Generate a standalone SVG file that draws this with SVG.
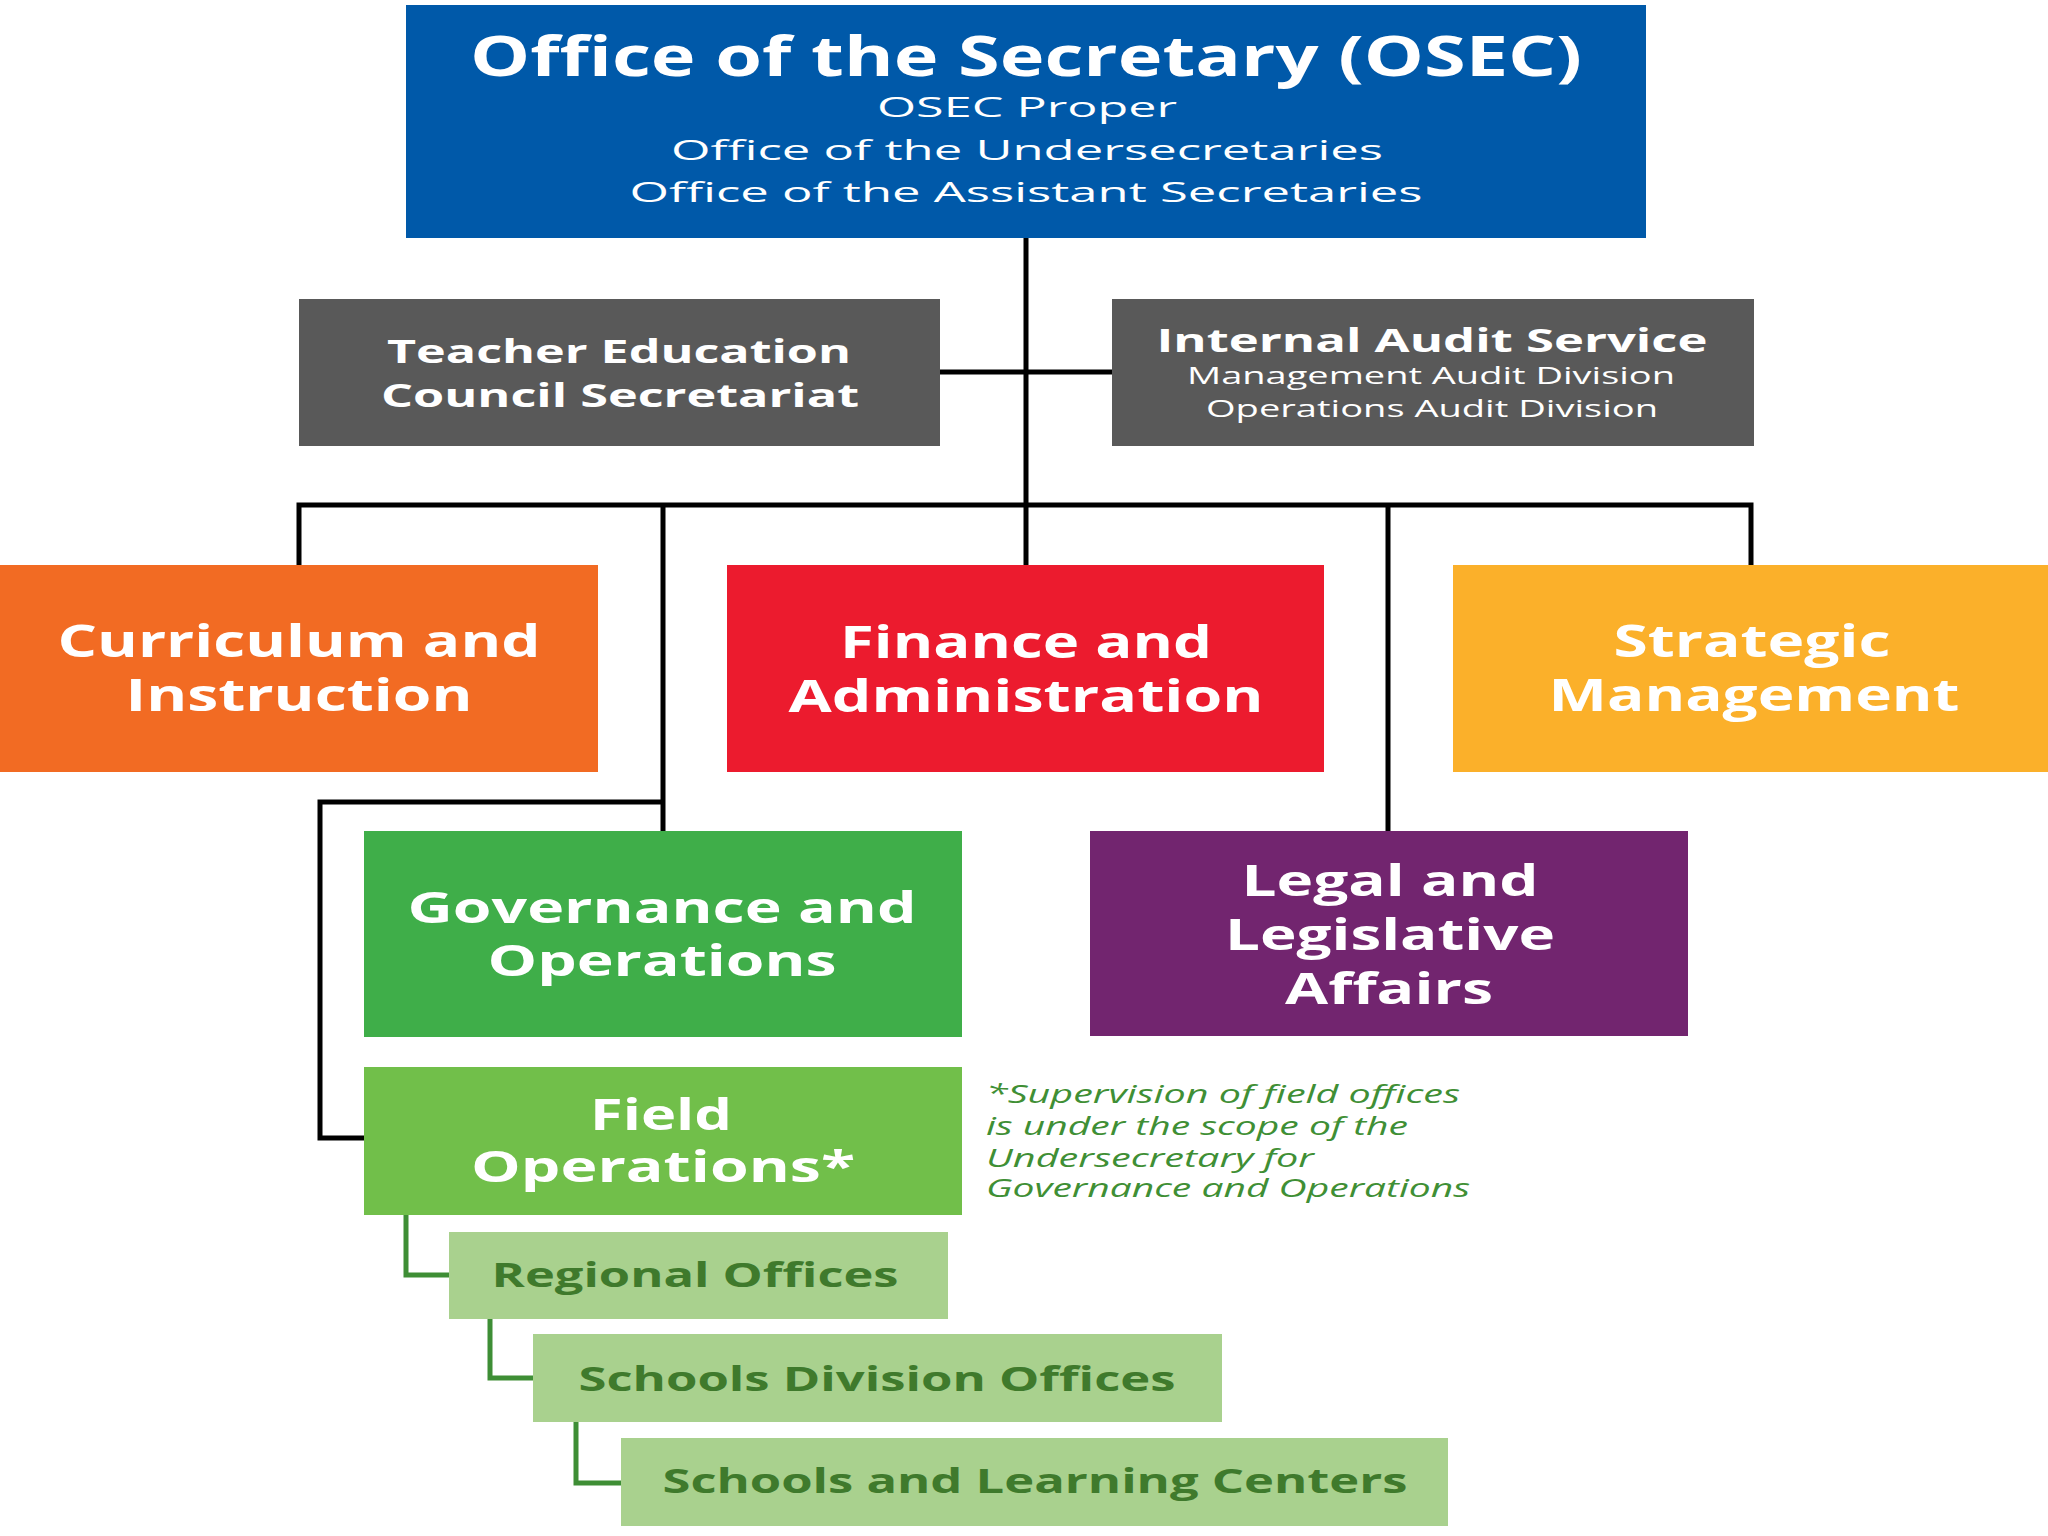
<svg xmlns="http://www.w3.org/2000/svg" width="2048" height="1536" viewBox="0 0 2048 1536">
<style>
.b{font-family:"Open Sans","Liberation Sans",sans-serif;font-weight:bold;fill:#ffffff;text-anchor:middle}
.r{font-family:"Open Sans","Liberation Sans",sans-serif;font-weight:normal;fill:#ffffff;text-anchor:middle}
.g{font-family:"Open Sans","Liberation Sans",sans-serif;font-weight:bold;fill:#3f7a2c;text-anchor:middle;font-size:34px}
.note{font-family:"Open Sans","Liberation Sans",sans-serif;font-style:italic;fill:#3f8f35;font-size:25px}
.ln{fill:none;stroke:#000000;stroke-width:5}
.gl{fill:none;stroke:#3e8e35;stroke-width:5}
</style>
<rect width="2048" height="1536" fill="#ffffff"/>
<g id="connectors">
<path class="ln" d="M1026 238 V505"/>
<path class="ln" d="M940 372 H1112"/>
<path class="ln" d="M299 565 V505 H1751 V565"/>
<path class="ln" d="M663 505 V831"/>
<path class="ln" d="M1026 505 V565"/>
<path class="ln" d="M1388 505 V831"/>
<path class="ln" d="M663 802 H320 V1138 H364"/>
<path class="gl" d="M406 1215 V1275 H449"/>
<path class="gl" d="M490 1319 V1378 H533"/>
<path class="gl" d="M576 1422 V1483 H621"/>
</g>
<g id="osec">
<rect x="406" y="5" width="1240" height="233" fill="#0059a9"/>
<text class="b" x="1026" y="76" font-size="56" textLength="1112" lengthAdjust="spacingAndGlyphs">Office of the Secretary (OSEC)</text>
<text class="r" x="1027" y="117" font-size="28" textLength="300" lengthAdjust="spacingAndGlyphs">OSEC Proper</text>
<text class="r" x="1027" y="160" font-size="28" textLength="712" lengthAdjust="spacingAndGlyphs">Office of the Undersecretaries</text>
<text class="r" x="1026" y="202" font-size="28" textLength="793" lengthAdjust="spacingAndGlyphs">Office of the Assistant Secretaries</text>
</g>
<g id="tecs">
<rect x="299" y="299" width="641" height="147" fill="#595959"/>
<text class="b" x="619" y="363" font-size="32" textLength="464" lengthAdjust="spacingAndGlyphs">Teacher Education</text>
<text class="b" x="620" y="407" font-size="32" textLength="478" lengthAdjust="spacingAndGlyphs">Council Secretariat</text>
</g>
<g id="ias">
<rect x="1112" y="299" width="642" height="147" fill="#595959"/>
<text class="b" x="1432" y="352" font-size="33" textLength="551" lengthAdjust="spacingAndGlyphs">Internal Audit Service</text>
<text class="r" x="1431" y="384" font-size="24" textLength="488" lengthAdjust="spacingAndGlyphs">Management Audit Division</text>
<text class="r" x="1432" y="417" font-size="24" textLength="452" lengthAdjust="spacingAndGlyphs">Operations Audit Division</text>
</g>
<g id="curriculum">
<rect x="0" y="565" width="598" height="207" fill="#f26b23"/>
<text class="b" x="299" y="657" font-size="44" textLength="483" lengthAdjust="spacingAndGlyphs">Curriculum and</text>
<text class="b" x="299" y="711" font-size="44" textLength="347" lengthAdjust="spacingAndGlyphs">Instruction</text>
</g>
<g id="finance">
<rect x="727" y="565" width="597" height="207" fill="#ec1b2e"/>
<text class="b" x="1026" y="658" font-size="44" textLength="372" lengthAdjust="spacingAndGlyphs">Finance and</text>
<text class="b" x="1026" y="712" font-size="44" textLength="475" lengthAdjust="spacingAndGlyphs">Administration</text>
</g>
<g id="strategic">
<rect x="1453" y="565" width="595" height="207" fill="#fbb02a"/>
<text class="b" x="1752" y="657" font-size="44" textLength="277" lengthAdjust="spacingAndGlyphs">Strategic</text>
<text class="b" x="1754" y="711" font-size="44" textLength="411" lengthAdjust="spacingAndGlyphs">Management</text>
</g>
<g id="governance">
<rect x="364" y="831" width="598" height="206" fill="#3fae49"/>
<text class="b" x="662" y="923" font-size="43" textLength="509" lengthAdjust="spacingAndGlyphs">Governance and</text>
<text class="b" x="662" y="976" font-size="43" textLength="349" lengthAdjust="spacingAndGlyphs">Operations</text>
</g>
<g id="legal">
<rect x="1090" y="831" width="598" height="205" fill="#72256f"/>
<text class="b" x="1390" y="896" font-size="43" textLength="297" lengthAdjust="spacingAndGlyphs">Legal and</text>
<text class="b" x="1390" y="950" font-size="43" textLength="330" lengthAdjust="spacingAndGlyphs">Legislative</text>
<text class="b" x="1389" y="1004" font-size="43" textLength="208" lengthAdjust="spacingAndGlyphs">Affairs</text>
</g>
<g id="field">
<rect x="364" y="1067" width="598" height="148" fill="#71bf4a"/>
<text class="b" x="661" y="1130" font-size="43" textLength="142" lengthAdjust="spacingAndGlyphs">Field</text>
<text class="b" x="663" y="1182" font-size="43" textLength="384" lengthAdjust="spacingAndGlyphs">Operations*</text>
</g>
<g id="footnote">
<text class="note" x="986" y="1103" textLength="474" lengthAdjust="spacingAndGlyphs">*Supervision of field offices</text>
<text class="note" x="986" y="1135" textLength="422" lengthAdjust="spacingAndGlyphs">is under the scope of the</text>
<text class="note" x="986" y="1167" textLength="328" lengthAdjust="spacingAndGlyphs">Undersecretary for</text>
<text class="note" x="986" y="1197" textLength="484" lengthAdjust="spacingAndGlyphs">Governance and Operations</text>
</g>
<g id="regional">
<rect x="449" y="1232" width="499" height="87" fill="#a9d18e"/>
<text class="g" x="695" y="1287" textLength="407" lengthAdjust="spacingAndGlyphs">Regional Offices</text>
</g>
<g id="sdo">
<rect x="533" y="1334" width="689" height="88" fill="#a9d18e"/>
<text class="g" x="877" y="1391" textLength="597" lengthAdjust="spacingAndGlyphs">Schools Division Offices</text>
</g>
<g id="slc">
<rect x="621" y="1438" width="827" height="88" fill="#a9d18e"/>
<text class="g" x="1035" y="1493" textLength="745" lengthAdjust="spacingAndGlyphs">Schools and Learning Centers</text>
</g>
</svg>
